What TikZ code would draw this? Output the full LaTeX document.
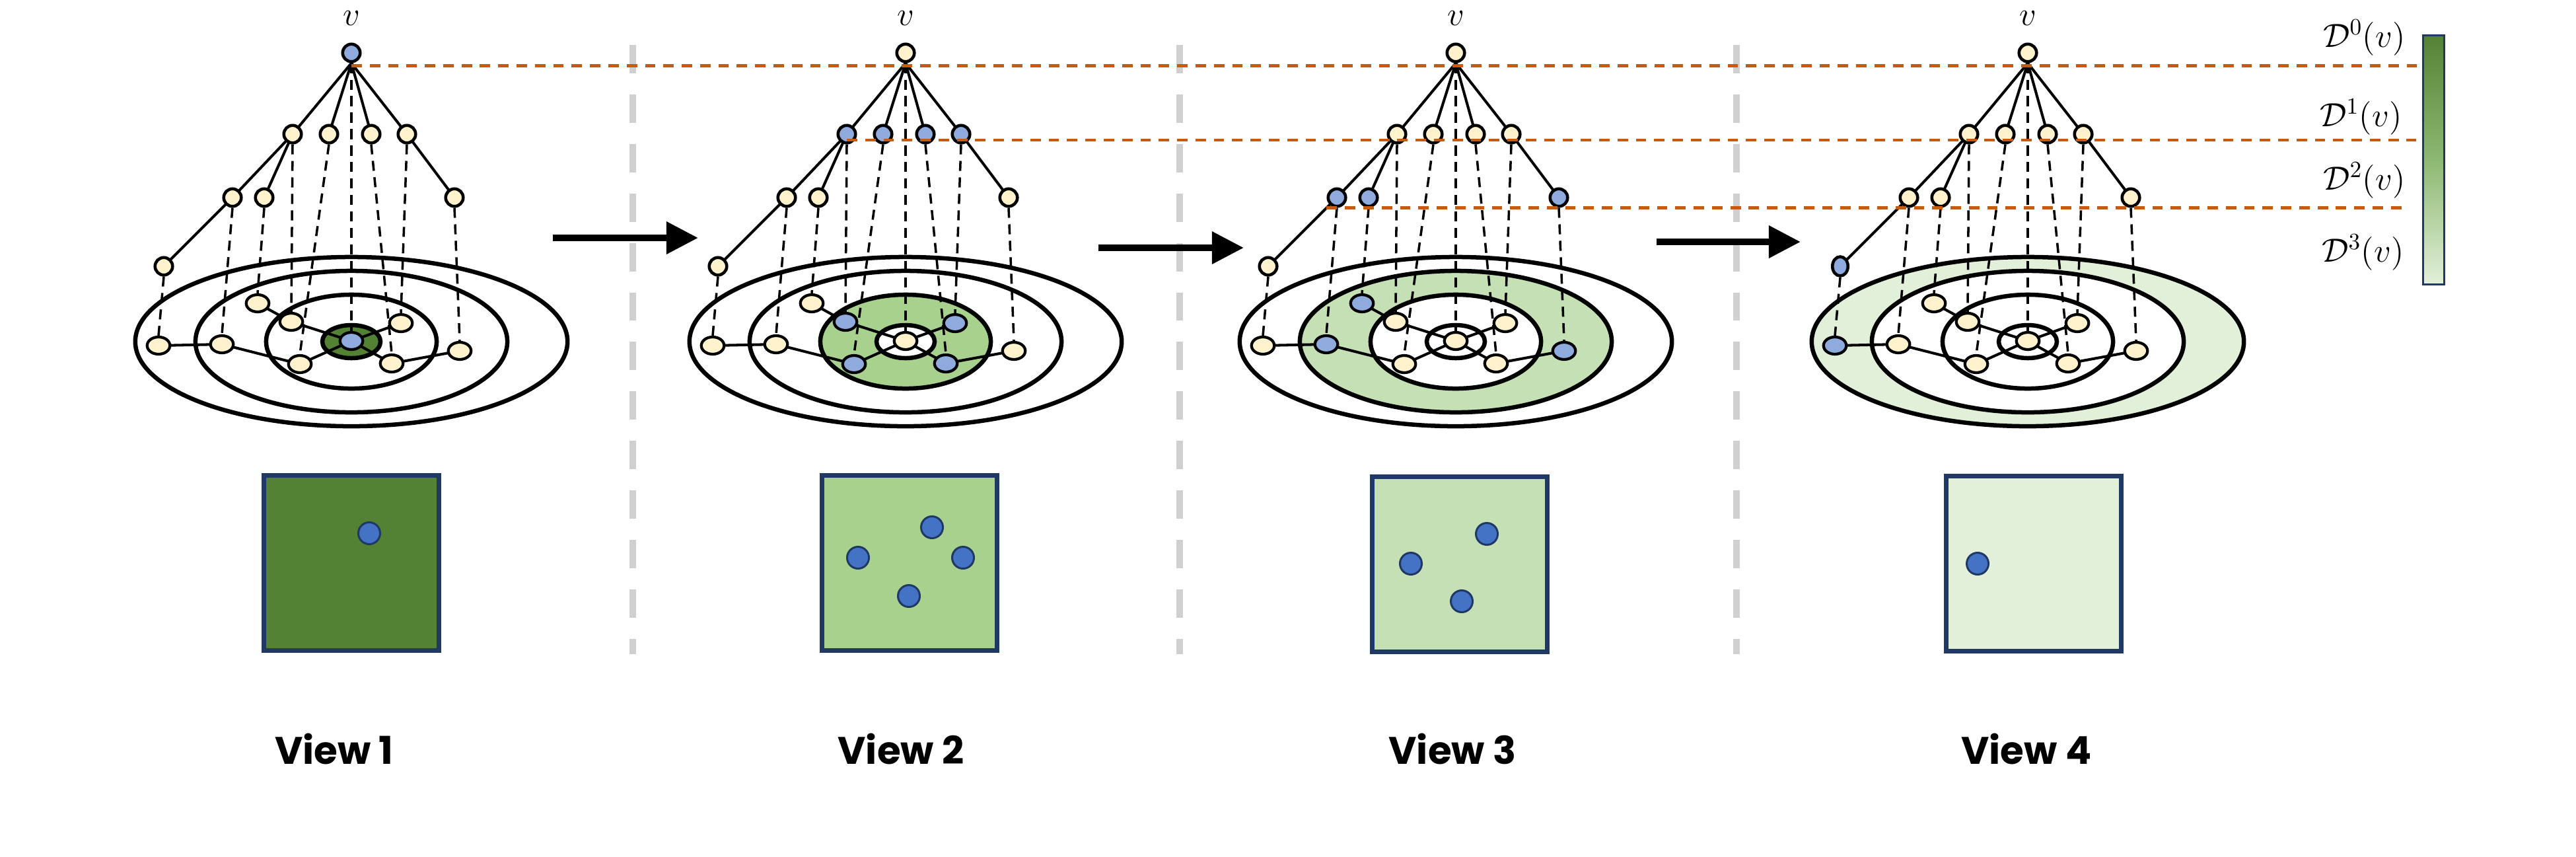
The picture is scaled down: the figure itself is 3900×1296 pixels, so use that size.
\documentclass[tikz,border=0pt]{standalone}
\usepackage{fontspec}
\newfontfamily\viewfont{Poppins}
\usetikzlibrary{arrows.meta,shapes.geometric,calc}
\pgfdeclarelayer{bg}
\pgfsetlayers{bg,main}
\definecolor{cream}{HTML}{FFF2CC}
\definecolor{nblue}{HTML}{8FAADC}
\definecolor{dkgreen}{HTML}{548235}
\definecolor{greenB}{HTML}{A9D18E}
\definecolor{greenC}{HTML}{C5E0B4}
\definecolor{greenD}{HTML}{E2F0D9}
\definecolor{greenM}{HTML}{8DB872}
\definecolor{orangeline}{HTML}{C55A11}
\definecolor{navy}{HTML}{1F3864}
\definecolor{dotblue}{HTML}{4472C4}
\definecolor{divgray}{HTML}{D0D0D0}
\tikzset{
  tn/.style={ellipse,draw,line width=1.3pt,inner sep=0pt,minimum width=0.265cm,minimum height=0.265cm},
  rn/.style={ellipse,draw,line width=1.2pt,inner sep=0pt,minimum width=0.345cm,minimum height=0.26cm},
  t3extra/.style={},
  edge/.style={line width=1.15pt,line join=round},
  proj/.style={line width=1pt,dash pattern=on 4.3pt off 2.8pt},
  ringline/.style={line width=1.85pt},
  dline/.style={draw=orangeline,line width=1.3pt,dash pattern=on 4.5pt off 3.4pt},
  divider/.style={draw=divgray,line width=2.85pt,dash pattern=on 12.2pt off 9.1pt},
  bigarrow/.style={line width=2.85pt,-{Triangle[length=13.7pt,width=13.4pt]}},
  sq/.style={rectangle,draw=navy,line width=2pt,minimum size=2.65cm,inner sep=0pt},
  dot/.style={circle,draw=navy,line width=0.85pt,fill=dotblue,minimum size=0.33cm,inner sep=0pt},
  vlab/.style={font=\fontsize{14}{16}\selectfont,inner sep=0pt},
  leglab/.style={font=\fontsize{14}{16}\selectfont,inner sep=0pt,anchor=east},
  viewlab/.style={font=\viewfont\bfseries\fontsize{16.5}{19}\selectfont,inner sep=0pt}
}
\newcommand\drawpanel[3]{%
\begin{scope}[shift={(#2,0)}]
\tikzset{lv0/.style={fill=cream},lv1/.style={fill=cream},lv2/.style={fill=cream},lv3/.style={fill=cream},lv#3/.style={fill=nblue}}
\node[tn,lv0] (#1root) at (0,80) {};
\node[tn,lv1] (#1t1a) at (-89,203) {};
\node[tn,lv1] (#1t1b) at (-34,203) {};
\node[tn,lv1] (#1t1c) at (30,203) {};
\node[tn,lv1] (#1t1d) at (84,203) {};
\node[tn,lv2] (#1t2a) at (-180,299) {};
\node[tn,lv2] (#1t2b) at (-132,299) {};
\node[tn,lv2] (#1t2c) at (156,299) {};
\node[tn,lv3,t3extra] (#1t3) at (-284,403) {};
\node[rn,lv0] (#1c0) at (0,516) {};
\node[rn,lv3] (#1ra) at (-292,523) {};
\node[rn,lv2] (#1rb) at (-196,521) {};
\node[rn,lv2] (#1rc) at (-142,459) {};
\node[rn,lv1] (#1rd) at (-91,487) {};
\node[rn,lv1] (#1re) at (-78,551) {};
\node[rn,lv1] (#1rf) at (75,489) {};
\node[rn,lv1] (#1rg) at (61,550) {};
\node[rn,lv2] (#1rh) at (164,531) {};
\node[vlab] (#1v) at (0,28) {$v$};
\begin{pgfonlayer}{bg}
\ifcase#3
 \fill[dkgreen] (0,517) ellipse [x radius=0.44cm,y radius=0.25cm];
\or
 \fill[greenB] (0,517) ellipse [x radius=1.29cm,y radius=0.71cm];
 \fill[white] (0,517) ellipse [x radius=0.44cm,y radius=0.25cm];
\or
 \fill[greenC] (0,517) ellipse [x radius=2.36cm,y radius=1.07cm];
 \fill[white] (0,517) ellipse [x radius=1.29cm,y radius=0.71cm];
\or
 \fill[greenD] (0,517) ellipse [x radius=3.27cm,y radius=1.28cm];
 \fill[white] (0,517) ellipse [x radius=2.36cm,y radius=1.07cm];
\fi
\draw[ringline] (0,517) ellipse [x radius=3.27cm,y radius=1.28cm];
\draw[ringline] (0,517) ellipse [x radius=2.36cm,y radius=1.07cm];
\draw[ringline] (0,517) ellipse [x radius=1.29cm,y radius=0.71cm];
\draw[ringline] (0,517) ellipse [x radius=0.44cm,y radius=0.25cm];
\draw[edge] (#1ra.center) -- (#1rb.center) -- (#1re.center) -- (#1c0.center) -- (#1rf.center);
\draw[edge] (#1rc.center) -- (#1rd.center) -- (#1c0.center) -- (#1rg.center) -- (#1rh.center);
\draw[proj] (#1root.south) -- (#1c0.north);
\draw[proj] (#1t1a.south) -- (#1rd.north);
\draw[proj] (#1t1b.south) -- (#1re.north);
\draw[proj] (#1t1c.south) -- (#1rg.north);
\draw[proj] (#1t1d.south) -- (#1rf.north);
\draw[proj] (#1t2a.south) -- (#1rb.north);
\draw[proj] (#1t2b.south) -- (#1rc.north);
\draw[proj] (#1t2c.south) -- (#1rh.north);
\draw[proj] (#1t3.south) -- (#1ra.north);
\draw[edge] (#1root.south) -- (#1t1a.center);
\draw[edge] (#1root.south) -- (#1t1b.center);
\draw[edge] (#1root.south) -- (#1t1c.center);
\draw[edge] (#1root.south) -- (#1t1d.center);
\draw[edge] (#1t1a.center) -- (#1t2a.center);
\draw[edge] (#1t1a.center) -- (#1t2b.center);
\draw[edge] (#1t1d.center) -- (#1t2c.center);
\draw[edge] (#1t2a.center) -- (#1t3.center);
\end{pgfonlayer}
\end{scope}}
\begin{document}
\begin{tikzpicture}[x=0.01cm,y=-0.01cm]
\begin{pgfonlayer}{bg}
\fill[white] (0,0) rectangle (3900,1296);
\end{pgfonlayer}
\useasboundingbox (0,0) rectangle (3900,1296);

% dividers
\coordinate (d1s) at (958,68);  \coordinate (d1e) at (958,990);
\coordinate (d2s) at (1786,68); \coordinate (d2e) at (1786,990);
\coordinate (d3s) at (2629,68); \coordinate (d3e) at (2629,990);
\draw[divider] (d1s) -- (d1e);
\draw[divider] (d2s) -- (d2e);
\draw[divider] (d3s) -- (d3e);

\drawpanel{p1}{532}{0}
\drawpanel{p2}{1371}{1}
\drawpanel{p3}{2204}{2}
\tikzset{t3extra/.style={minimum width=0.235cm,minimum height=0.29cm}}
\drawpanel{p4}{3070}{3}

% arrows
\coordinate (a1s) at (837,360);  \coordinate (a1e) at (1057,360);
\coordinate (a2s) at (1663,375); \coordinate (a2e) at (1883,375);
\coordinate (a3s) at (2508,366); \coordinate (a3e) at (2726,366);
\draw[bigarrow] (a1s) -- (a1e);
\draw[bigarrow] (a2s) -- (a2e);
\draw[bigarrow] (a3s) -- (a3e);

% legend
\node[draw=navy,line width=0.85pt,minimum width=0.32cm,minimum height=3.77cm,inner sep=0pt,
      top color=dkgreen,bottom color=greenD,middle color=greenM] (legbar) at (3684.5,242) {};
\node[leglab] (leg0) at (3642,57) {$\mathcal{D}^0(v)$};
\node[leglab] (leg1) at (3637,177) {$\mathcal{D}^1(v)$};
\node[leglab] (leg2) at (3642,273) {$\mathcal{D}^2(v)$};
\node[leglab] (leg3) at (3640,382) {$\mathcal{D}^3(v)$};

% orange level lines
\coordinate (o0s) at ([yshift=-0.04cm]p1root.south);
\coordinate (o0e) at (o0s -| legbar.west);
\coordinate (o1s) at ([yshift=-0.09cm]p2t1a.center);
\coordinate (o1e) at (o1s -| legbar.west);
\coordinate (o2s) at (p3t2a.west |- p3t2a.south);
\coordinate (o2e) at (o2s -| legbar.west);
\draw[dline] (o0s) -- ([xshift=-0.05cm]o0e);
\draw[dline] (o1s) -- ([xshift=-0.09cm]o1e);
\draw[dline] (o2s) -- ([xshift=-0.2cm]o2e);

% squares
\node[sq,fill=dkgreen] (sq1) at (532,852) {};
\node[sq,fill=greenB] (sq2) at (1377,852) {};
\node[sq,fill=greenC] (sq3) at (2210,854) {};
\node[sq,fill=greenD] (sq4) at (3079,853) {};
\node[dot] (s1d1) at (559,807) {};
\node[dot] (s2d1) at (1411,798) {};
\node[dot] (s2d2) at (1299,844) {};
\node[dot] (s2d3) at (1458,844) {};
\node[dot] (s2d4) at (1376,902) {};
\node[dot] (s3d1) at (2251,808) {};
\node[dot] (s3d2) at (2136,853) {};
\node[dot] (s3d3) at (2213,910) {};
\node[dot] (s4d1) at (2994,853) {};

% view labels
\node[viewlab] (view1) at (506,1133) {View 1};
\node[viewlab] (view2) at (1364,1133) {View 2};
\node[viewlab] (view3) at (2199,1133) {View 3};
\node[viewlab] (view4) at (3068,1133) {View 4};
\end{tikzpicture}
\end{document}
